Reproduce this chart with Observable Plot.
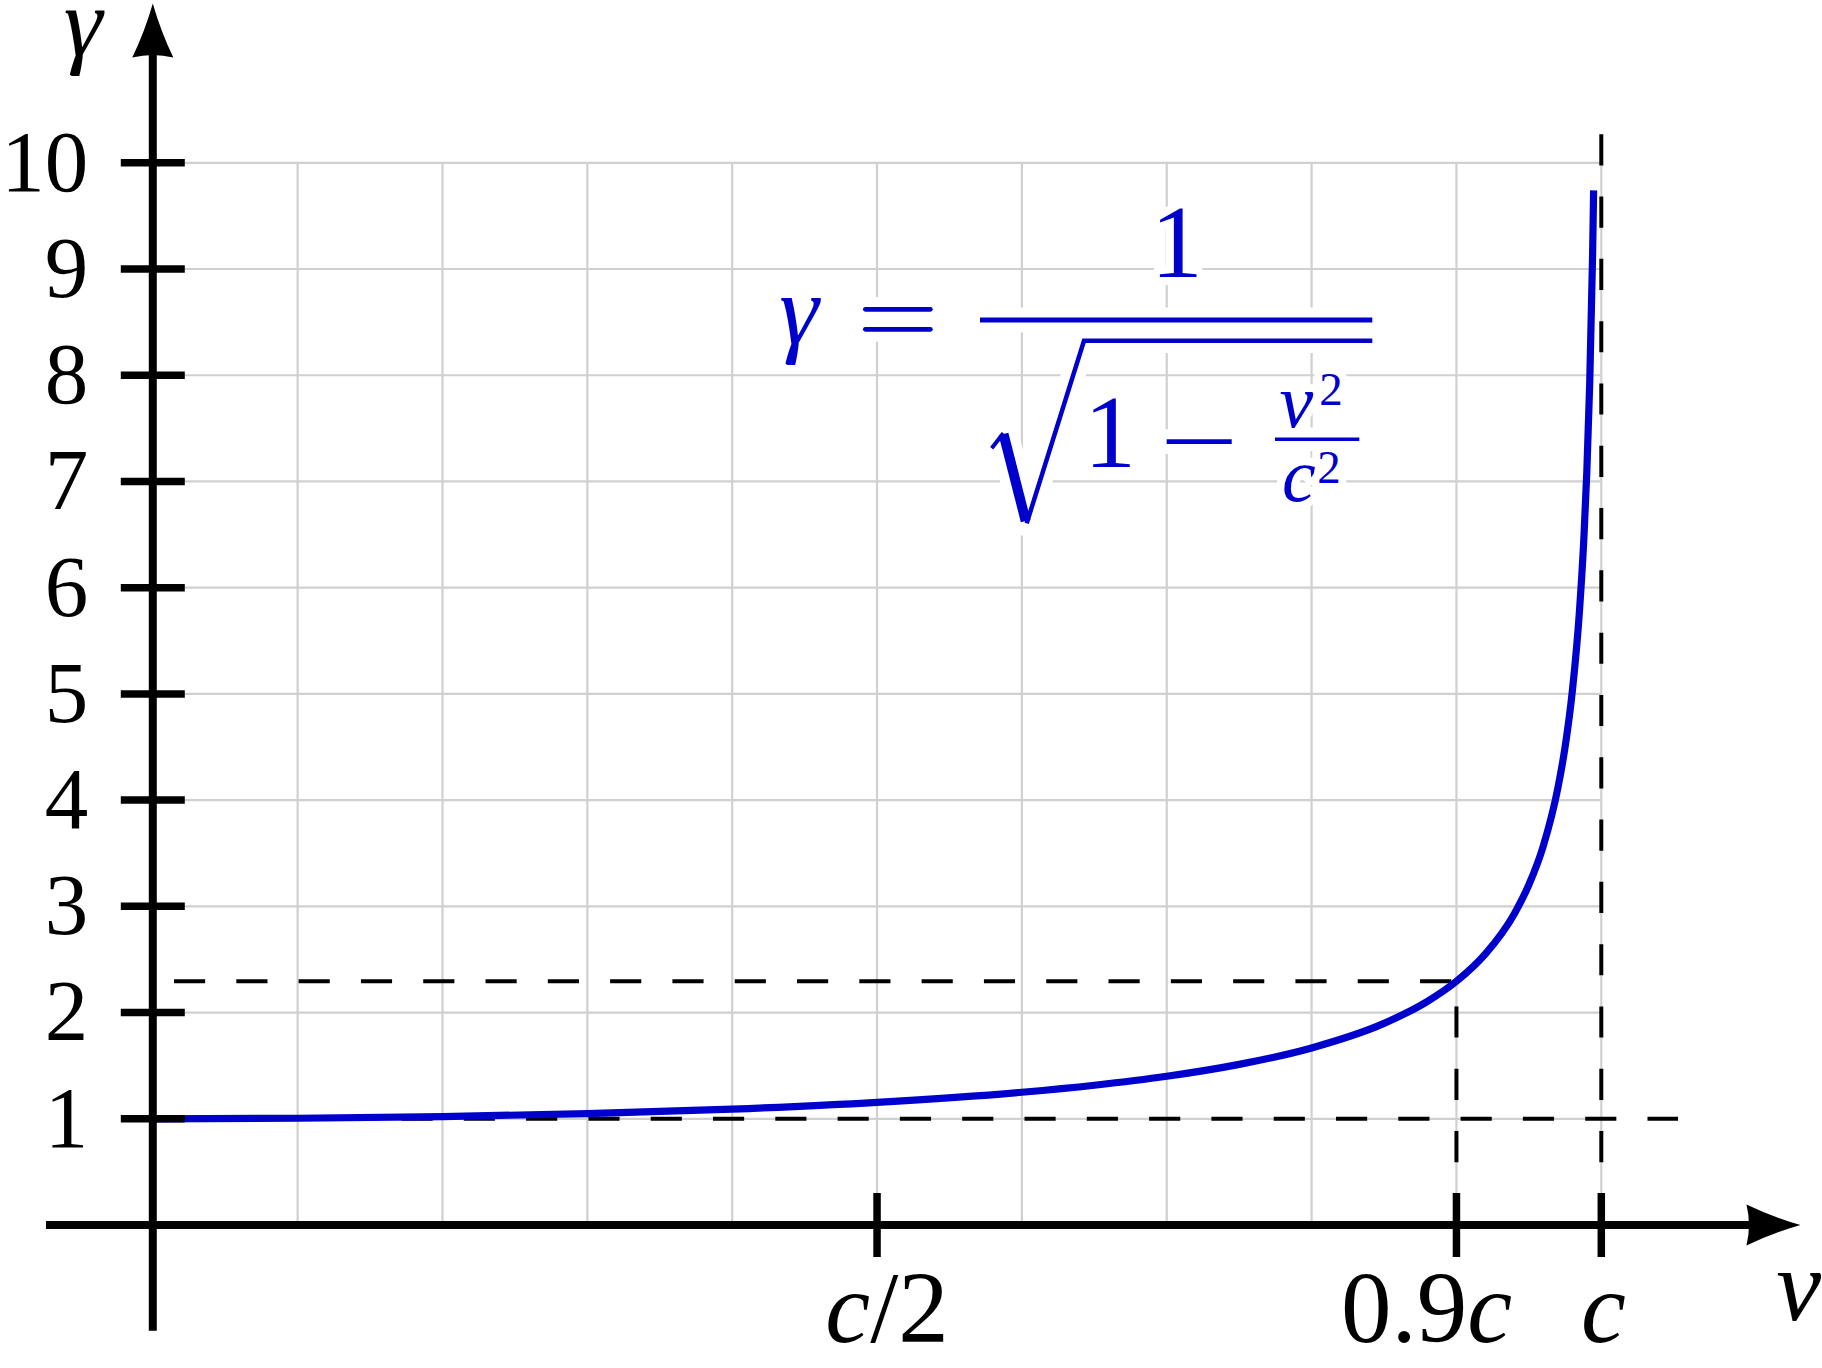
<!DOCTYPE html>
<html><head><meta charset="utf-8">
<script src="https://cdn.jsdelivr.net/npm/d3@7"></script>
<script src="https://cdn.jsdelivr.net/npm/@observablehq/plot@0.6"></script>
<style>html,body{margin:0;padding:0;background:#fff;overflow:hidden}svg{display:block}</style>
</head><body><div id="chart"></div>
<script>
// ---- data ----
const velocity = [0, 0.1, 0.2, 0.3, 0.4, 0.5, 0.6, 0.65, 0.7, 0.75, 0.8, 0.85, 0.88, 0.9, 0.92, 0.94, 0.95, 0.96, 0.97, 0.975, 0.98, 0.985, 0.988, 0.99, 0.992, 0.994, 0.9947];
const gamma    = [1.000, 1.005, 1.021, 1.048, 1.091, 1.155, 1.250, 1.316, 1.400, 1.512, 1.667, 1.898, 2.105, 2.294, 2.552, 2.931, 3.203, 3.571, 4.113, 4.500, 5.025, 5.795, 6.474, 7.089, 7.921, 9.142, 9.74];

const yTicks = [1, 2, 3, 4, 5, 6, 7, 8, 9, 10];
const xTickValues = [0.5, 0.9, 1];
const xTickLabels = ["c/2", "0.9c", "c"];
const gridV = [0.1, 0.2, 0.3, 0.4, 0.5, 0.6, 0.7, 0.8, 0.9, 1.0];
const gridG = [1, 2, 3, 4, 5, 6, 7, 8, 9, 10];

// dashed guides
const guideG = [2.294, 1];
const guideFrom = [0.015, 0];
const guideTo = [0.9, 1.0533];
const guideV = [0.9, 1];
const guideTop = [2.294, 10.266];

// axes extents
const axisXRange = [-0.0734, 1.11];
const axisYRange = [-1.0, 11.2];
const xArrowTip = 1.1375;
const yArrowTip = 11.50;

// formula anchor (centre of the main fraction bar)
const formulaV = 0.70673;
const formulaG = 8.5153;

const curve = velocity.map((v, i) => ({v, g: gamma[i]}));
const BLUE = "#0000cc";
const FONT = "'Liberation Serif', 'Times New Roman', serif";

const arrowSymbol = {draw(ctx) {
  ctx.moveTo(0, 0);
  ctx.quadraticCurveTo(-8, 28, -20.5, 54);
  ctx.quadraticCurveTo(0, 49, 20.5, 54);
  ctx.quadraticCurveTo(8, 28, 0, 0);
  ctx.closePath();
}};
const hTick = {draw(ctx) { ctx.moveTo(-32, 0); ctx.lineTo(32, 0); }};
const vTick = {draw(ctx) { ctx.moveTo(0, -32); ctx.lineTo(0, 32); }};

const xLabelDx = {"c/2": 10, "0.9c": -30, "c": 2};

const plot = Plot.plot({
  width: 1822,
  height: 1368,
  margin: 0,
  x: {domain: [-0.10514, 1.15271], axis: null},
  y: {domain: [-1.3510, 11.5280], axis: null},
  style: {background: "white", overflow: "visible"},
  marks: [
    Plot.ruleX(gridV, {x: d => d, y1: 0, y2: 10, stroke: "#d0d0d0", strokeWidth: 2.2}),
    Plot.ruleY(gridG, {y: d => d, x1: 0, x2: 1, stroke: "#d0d0d0", strokeWidth: 2.2}),
    Plot.ruleY(guideG, {y: d => d, x1: (d, i) => guideFrom[i], x2: (d, i) => guideTo[i], stroke: "black", strokeWidth: 4, strokeDasharray: "31.15 31.15"}),
    Plot.ruleX(guideV, {x: d => d, y1: 0, y2: (d, i) => guideTop[i], stroke: "black", strokeWidth: 4, strokeDasharray: "31.15 31.15"}),
    Plot.line(curve, {x: "v", y: "g", stroke: BLUE, strokeWidth: 7.2, curve: "monotone-x", strokeLinecap: "butt"}),
    Plot.ruleY([0], {x1: axisXRange[0], x2: axisXRange[1], stroke: "black", strokeWidth: 8}),
    Plot.ruleX([0], {y1: axisYRange[0], y2: axisYRange[1], stroke: "black", strokeWidth: 8}),
    Plot.dot([0], {x: 0, y: yArrowTip, symbol: arrowSymbol, fill: "black", stroke: "none"}),
    Plot.dot([0], {x: xArrowTip, y: 0, symbol: arrowSymbol, rotate: 90, fill: "black", stroke: "none"}),
    Plot.dot(yTicks, {x: 0, y: d => d, symbol: hTick, fill: "none", stroke: "black", strokeWidth: 7.5}),
    Plot.dot(xTickValues, {x: d => d, y: 0, symbol: vTick, fill: "none", stroke: "black", strokeWidth: 7.5}),
    Plot.text(yTicks, {x: 0, y: d => d, text: d => String(d), textAnchor: "end", dx: -64.5, lineAnchor: "middle", fontSize: 87, fontFamily: FONT, fill: "black"}),
    ...xTickLabels.map((lab, i) => Plot.text([lab], {x: xTickValues[i], y: 0, text: d => d, textAnchor: "middle", dx: xLabelDx[lab], dy: 117.2, lineAnchor: "bottom", fontSize: 101, fontFamily: FONT, fill: "black"})),
    Plot.text(["γ"], {x: 0, y: yArrowTip, text: d => d, dx: -69.8, dy: 52, lineAnchor: "bottom", textAnchor: "middle", fontSize: 98, fontStyle: "italic", fontFamily: FONT, fill: "black"}),
    Plot.text(["v"], {x: xArrowTip, y: 0, text: d => d, dx: -1.7, dy: 95.5, lineAnchor: "bottom", textAnchor: "middle", fontSize: 101, fontStyle: "italic", fontFamily: FONT, fill: "black"})
  ]
});

// italicise the math letters in the x tick labels
d3.select(plot).selectAll("text").each(function() {
  const s = this.textContent;
  if (!xTickLabels.includes(s)) return;
  this.textContent = "";
  for (const ch of s) {
    const t = document.createElementNS("http://www.w3.org/2000/svg", "tspan");
    if (/[a-zγ]/.test(ch)) t.setAttribute("font-style", "italic");
    t.textContent = ch;
    this.appendChild(t);
  }
});

// formula annotation, placed with the plot's own scales
const fx = plot.scale("x").apply(formulaV);
const fy = plot.scale("y").apply(formulaG);
const svg = d3.select(plot);
const g = svg.append("g").attr("transform", `translate(${fx},${fy})`).attr("font-family", FONT);

const fTexts = [
  {t: "γ", x: -377, y: 24, s: 100, it: true},
  {t: "1", x: 0.7, y: -43.3, s: 104},
  {t: "1", x: -66, y: 146.7, s: 104}
];
// the small fraction v²/c² as one text element with positioned parts
const smallFrac = [
  {t: "v", x: 120.5, y: 106.7, s: 76, it: true},
  {t: "2", x: 155, y: 85, s: 47},
  {t: "c", x: 122.8, y: 180.5, s: 76, it: true},
  {t: "2", x: 153, y: 162.7, s: 47}
];
const fLines = [
  {p: [[-310.6, -10.7], [-245.7, -10.7]], w: 4.8, cap: "round"},
  {p: [[-310.6, 9.3], [-245.7, 9.3]], w: 4.8, cap: "round"},
  {p: [[-196, 0], [196.3, 0]], w: 4.8},
  {p: [[-9.3, 121.7], [55.7, 121.7]], w: 4.8},
  {p: [[99, 119.3], [183.3, 119.3]], w: 3.6},
  {p: [[-184.3, 128.3], [-172.7, 113.3]], w: 4},
  {p: [[-172.5, 114], [-150.3, 201]], w: 10},
  {p: [[-149.3, 203.3], [-92, 20.7], [196.3, 20.7]], w: 4.5}
];
const lineGen = d3.line();
for (const pass of ["halo", "ink"]) {
  const layer = g.append("g");
  for (const l of fLines) {
    layer.append("path").attr("d", lineGen(l.p)).attr("fill", "none")
      .attr("stroke", pass === "halo" ? "white" : BLUE)
      .attr("stroke-width", pass === "halo" ? l.w + 20 : l.w)
      .attr("stroke-linecap", pass === "halo" ? "round" : (l.cap || "butt"))
      .attr("stroke-linejoin", "miter");
  }
}
// texts with their own white halo (painted beneath the fill)
function haloText(sel) {
  return sel.attr("text-anchor", "middle").attr("fill", BLUE).attr("stroke", "white")
    .attr("stroke-width", 16).attr("stroke-linejoin", "round").attr("paint-order", "stroke");
}
for (const t of fTexts) {
  haloText(g.append("text")).attr("x", t.x).attr("y", t.y)
    .attr("font-size", t.s).attr("font-style", t.it ? "italic" : "normal").text(t.t);
}
const sf = haloText(g.append("text"));
for (const t of smallFrac) {
  sf.append("tspan").attr("x", t.x).attr("y", t.y).attr("font-size", t.s)
    .attr("font-style", t.it ? "italic" : "normal").text(t.t);
}

document.getElementById("chart").appendChild(plot);
</script>
</body></html>
